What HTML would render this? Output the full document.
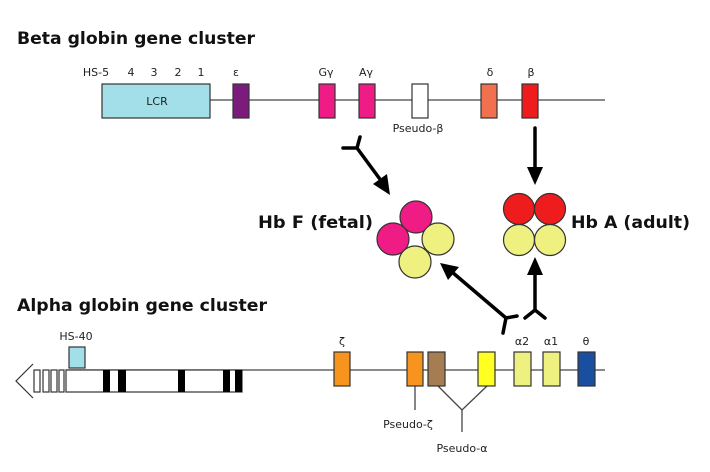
<!DOCTYPE html>
<html><head><style>body{margin:0;background:#fff}svg{display:block}</style></head><body>
<svg width="710" height="472" viewBox="0 0 710 472" xmlns="http://www.w3.org/2000/svg" font-family="DejaVu Sans, Liberation Sans, sans-serif">
<rect width="710" height="472" fill="#fff"/>
<text x="17" y="44" font-size="16.5" font-weight="bold" fill="#111" textLength="238" lengthAdjust="spacingAndGlyphs">Beta globin gene cluster</text>
<text x="17" y="311" font-size="16.5" font-weight="bold" fill="#111" textLength="250" lengthAdjust="spacingAndGlyphs">Alpha globin gene cluster</text>
<g font-size="11" fill="#222" text-anchor="middle">
<text x="96" y="76">HS-5</text><text x="131" y="76">4</text><text x="154" y="76">3</text><text x="178" y="76">2</text><text x="201" y="76">1</text>
<text x="236" y="76">ε</text><text x="326" y="76">Gγ</text><text x="366" y="76">Aγ</text><text x="490" y="76">δ</text><text x="531" y="76">β</text>
<text x="418" y="132">Pseudo-β</text>
<text x="76" y="340">HS-40</text><text x="342" y="345">ζ</text>
<text x="522" y="345">α2</text><text x="551" y="345">α1</text><text x="586" y="345">θ</text>
<text x="408" y="428">Pseudo-ζ</text><text x="462" y="452">Pseudo-α</text>
</g>
<g stroke="#444" stroke-width="1.3">
<line x1="210" y1="100" x2="605" y2="100"/>
<line x1="66" y1="370" x2="605" y2="370"/>
<line x1="415" y1="386" x2="415" y2="410"/>
<polyline points="438,386 462,410 487,386" fill="none"/>
<line x1="462" y1="410" x2="462" y2="432"/>
</g>
<g stroke="#333" stroke-width="1.2">
<rect x="102" y="84" width="108" height="34" fill="#a3dfe9"/>
<rect x="233" y="84" width="16" height="34" fill="#7b1c7c"/>
<rect x="319" y="84" width="16" height="34" fill="#ee1c84"/>
<rect x="359" y="84" width="16" height="34" fill="#ee1c84"/>
<rect x="412" y="84" width="16" height="34" fill="#fff"/>
<rect x="481" y="84" width="16" height="34" fill="#f0704f"/>
<rect x="522" y="84" width="16" height="34" fill="#ee1c1c"/>
<rect x="69" y="347" width="16" height="21" fill="#a3dfe9"/>
<rect x="66" y="370" width="176" height="22" fill="#fff"/>
<rect x="34" y="370" width="6" height="22" fill="#fff"/>
<rect x="43" y="370" width="6" height="22" fill="#fff"/>
<rect x="51" y="370" width="6" height="22" fill="#fff"/>
<rect x="59" y="370" width="5" height="22" fill="#fff"/>
<polyline points="33,364 16,381 33,398" fill="none"/>
<rect x="334" y="352" width="16" height="34" fill="#f7941d"/>
<rect x="407" y="352" width="16" height="34" fill="#f7941d"/>
<rect x="428" y="352" width="17" height="34" fill="#a67c52"/>
<rect x="478" y="352" width="17" height="34" fill="#ffff22"/>
<rect x="514" y="352" width="17" height="34" fill="#eef080"/>
<rect x="543" y="352" width="17" height="34" fill="#eef080"/>
<rect x="578" y="352" width="17" height="34" fill="#1a4fa0"/>
</g>
<g fill="#000">
<rect x="103" y="370" width="7" height="22"/><rect x="118" y="370" width="8" height="22"/>
<rect x="178" y="370" width="7" height="22"/><rect x="223" y="370" width="7" height="22"/><rect x="235" y="370" width="7" height="22"/>
</g>
<text x="157" y="105" font-size="11" text-anchor="middle" fill="#222">LCR</text>
<g stroke="#333" stroke-width="1.2">
<circle cx="416" cy="217" r="16" fill="#ee1c84"/>
<circle cx="393" cy="239" r="16" fill="#ee1c84"/>
<circle cx="438" cy="239" r="16" fill="#eef080"/>
<circle cx="415" cy="262" r="16" fill="#eef080"/>
<circle cx="519" cy="209" r="15.5" fill="#ee1c1c"/>
<circle cx="550" cy="209" r="15.5" fill="#ee1c1c"/>
<circle cx="519" cy="240" r="15.5" fill="#eef080"/>
<circle cx="550" cy="240" r="15.5" fill="#eef080"/>
</g>
<text x="258" y="228" font-size="16.5" font-weight="bold" fill="#111" textLength="115" lengthAdjust="spacingAndGlyphs">Hb F (fetal)</text>
<text x="571" y="228" font-size="16.5" font-weight="bold" fill="#111" textLength="119" lengthAdjust="spacingAndGlyphs">Hb A (adult)</text>
<g stroke="#000" stroke-width="3.5" fill="none" stroke-linecap="round">
<line x1="535" y1="128" x2="535" y2="172"/>
<line x1="357" y1="148" x2="382" y2="182"/>
<polyline points="343,148 357,148 360,137"/>
<line x1="506" y1="318" x2="452" y2="272"/>
<polyline points="503,333 506,318 517,316"/>
<line x1="535" y1="310" x2="535" y2="270"/>
<polyline points="525,318 535,310 545,318"/>
</g>
<g fill="#000">
<polygon points="535,185 527,167 543,167"/>
<polygon points="390,195 373,184 387,174"/>
<polygon points="440,263 459,267 448,280"/>
<polygon points="535,257 527,275 543,275"/>
</g>
</svg>
</body></html>
